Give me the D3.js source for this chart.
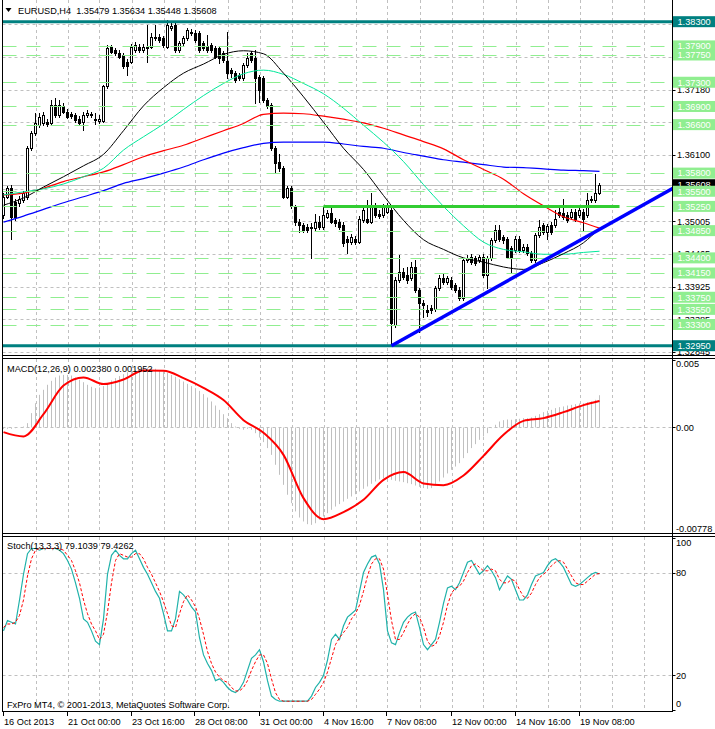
<!DOCTYPE html>
<html><head><meta charset="utf-8">
<script src="https://cdn.jsdelivr.net/npm/d3@7"></script>
<style>
html,body{margin:0;padding:0;background:#fff;}
svg text{font-family:"Liberation Sans",Arial,sans-serif;font-size:9.2px;white-space:pre;}
</style></head><body>
<svg id="c" width="715" height="729"></svg>
<script>
// ---------------- DATA ----------------
const symbolTitle = "EURUSD,H4  1.35479 1.35634 1.35448 1.35608";
const openP = [1.3511,1.3541,1.3555,1.3533,1.3530,1.3536,1.3541,1.3621,1.3646,1.3659,1.3662,1.3665,1.3662,1.3692,1.3676,1.3691,1.3681,1.3678,1.3676,1.3669,1.3665,1.3676,1.3678,1.3669,1.3666,1.3666,1.3723,1.3789,1.3783,1.3779,1.3775,1.3764,1.3764,1.3783,1.3789,1.3783,1.3786,1.3789,1.3803,1.3805,1.3803,1.3789,1.3819,1.3825,1.3783,1.3794,1.3803,1.3811,1.3811,1.3811,1.3794,1.3790,1.3792,1.3786,1.3786,1.3778,1.3765,1.3750,1.3745,1.3742,1.3737,1.3759,1.3778,1.3770,1.3739,1.3737,1.3701,1.3692,1.3621,1.3599,1.3588,1.3541,1.3555,1.3525,1.3500,1.3494,1.3491,1.3489,1.3489,1.3500,1.3491,1.3508,1.3514,1.3503,1.3500,1.3494,1.3472,1.3467,1.3472,1.3467,1.3503,1.3505,1.3500,1.3525,1.3512,1.3511,1.3516,1.3519,1.3329,1.3403,1.3417,1.3412,1.3406,1.3425,1.3387,1.3365,1.3354,1.3357,1.3355,1.3390,1.3406,1.3401,1.3403,1.3395,1.3387,1.3373,1.3437,1.3442,1.3439,1.3437,1.3442,1.3412,1.3439,1.3470,1.3486,1.3474,1.3471,1.3456,1.3453,1.3472,1.3453,1.3458,1.3448,1.3437,1.3478,1.3494,1.3483,1.3494,1.3494,1.3516,1.3514,1.3511,1.3508,1.3516,1.3511,1.3516,1.3511,1.3536,1.3536,1.35479];
const highP = [1.3547,1.3559,1.3560,1.3537,1.3542,1.3550,1.3625,1.3650,1.3679,1.3679,1.3681,1.3669,1.3701,1.3704,1.3701,1.3696,1.3686,1.3681,1.3679,1.3674,1.3681,1.3684,1.3681,1.3679,1.3676,1.3725,1.3792,1.3792,1.3787,1.3783,1.3778,1.3768,1.3793,1.3796,1.3793,1.3793,1.3825,1.3811,1.3825,1.3810,1.3806,1.3833,1.3828,1.3828,1.3798,1.3806,1.3820,1.3818,1.3816,1.3815,1.3798,1.3808,1.3795,1.3790,1.3790,1.3782,1.3813,1.3754,1.3749,1.3745,1.3762,1.3778,1.3782,1.3783,1.3742,1.3740,1.3704,1.3696,1.3625,1.3612,1.3592,1.3559,1.3559,1.3527,1.3504,1.3498,1.3496,1.3498,1.3512,1.3509,1.3524,1.3519,1.3522,1.3506,1.3504,1.3499,1.3476,1.3479,1.3476,1.3509,1.3525,1.3536,1.3547,1.3531,1.3519,1.3529,1.3531,1.3527,1.3408,1.3445,1.3423,1.3425,1.3433,1.3437,1.3390,1.3371,1.3362,1.3362,1.3394,1.3412,1.3413,1.3410,1.3408,1.3399,1.3392,1.3440,1.3445,1.3446,1.3443,1.3445,1.3446,1.3443,1.3473,1.3494,1.3494,1.3478,1.3474,1.3460,1.3476,1.3476,1.3463,1.3463,1.3451,1.3481,1.3503,1.3498,1.3496,1.3499,1.3519,1.3522,1.3538,1.3516,1.3521,1.3521,1.3524,1.3521,1.3547,1.3542,1.3579,1.35634];
const lowP = [1.3506,1.3539,1.3471,1.3503,1.3526,1.3532,1.3537,1.3618,1.3643,1.3656,1.3659,1.3658,1.3659,1.3673,1.3673,1.3679,1.3671,1.3671,1.3664,1.3659,1.3651,1.3673,1.3673,1.3661,1.3663,1.3664,1.3721,1.3778,1.3775,1.3770,1.3754,1.3742,1.3762,1.3780,1.3780,1.3780,1.3764,1.3787,1.3800,1.3796,1.3788,1.3787,1.3816,1.3780,1.3780,1.3792,1.3800,1.3808,1.3796,1.3780,1.3783,1.3780,1.3780,1.3770,1.3762,1.3763,1.3737,1.3739,1.3730,1.3734,1.3734,1.3755,1.3763,1.3696,1.3698,1.3697,1.3688,1.3618,1.3582,1.3583,1.3539,1.3539,1.3522,1.3494,1.3483,1.3483,1.3483,1.3440,1.3486,1.3488,1.3488,1.3506,1.3498,1.3493,1.3488,1.3460,1.3448,1.3463,1.3463,1.3465,1.3499,1.3498,1.3498,1.3508,1.3506,1.3508,1.3514,1.3295,1.3326,1.3400,1.3405,1.3399,1.3403,1.3384,1.3318,1.3343,1.3344,1.3349,1.3352,1.3387,1.3397,1.3397,1.3389,1.3384,1.3371,1.3371,1.3433,1.3430,1.3428,1.3433,1.3408,1.3390,1.3437,1.3466,1.3468,1.3465,1.3440,1.3417,1.3450,1.3450,1.3450,1.3445,1.3433,1.3433,1.3474,1.3479,1.3472,1.3479,1.3491,1.3508,1.3504,1.3499,1.3504,1.3501,1.3508,1.3486,1.3508,1.3532,1.3532,1.35448];
const closeP = [1.3541,1.3555,1.3508,1.3508,1.3538,1.3547,1.3621,1.3646,1.3662,1.3673,1.3676,1.3661,1.3692,1.3676,1.3692,1.3681,1.3673,1.3674,1.3668,1.3662,1.3676,1.3679,1.3676,1.3668,1.3669,1.3723,1.3786,1.3780,1.3778,1.3772,1.3756,1.3756,1.3789,1.3792,1.3783,1.3789,1.3789,1.3805,1.3805,1.3800,1.3792,1.3825,1.3823,1.3783,1.3794,1.3803,1.3816,1.3813,1.3800,1.3783,1.3786,1.3783,1.3783,1.3772,1.3770,1.3767,1.3745,1.3745,1.3734,1.3737,1.3759,1.3770,1.3767,1.3737,1.3717,1.3701,1.3690,1.3621,1.3596,1.3588,1.3541,1.3555,1.3525,1.3500,1.3494,1.3486,1.3486,1.3491,1.3500,1.3491,1.3511,1.3514,1.3500,1.3497,1.3491,1.3464,1.3467,1.3475,1.3467,1.3505,1.3519,1.3500,1.3525,1.3511,1.3509,1.3525,1.3526,1.3332,1.3403,1.3417,1.3409,1.3403,1.3425,1.3387,1.3365,1.3362,1.3351,1.3354,1.3390,1.3406,1.3401,1.3406,1.3392,1.3387,1.3373,1.3437,1.3439,1.3434,1.3431,1.3441,1.3412,1.3439,1.3470,1.3486,1.3471,1.3470,1.3442,1.3439,1.3472,1.3453,1.3458,1.3448,1.3437,1.3478,1.3491,1.3483,1.3493,1.3483,1.3505,1.3511,1.3508,1.3503,1.3516,1.3505,1.3519,1.3505,1.3536,1.3538,1.3547,1.35608];

// moving averages sampled at bars
const maBars  = [0,5,10,15,20,25,30,35,40,45,50,55,60,65,70,75,80,85,90,95,100,105,110,115,120,125,130,135,140,145,149];
const maBlack = [1.3527,1.3539,1.3557,1.3574,1.3592,1.3611,1.3650,1.3691,1.3721,1.3745,1.3760,1.3776,1.3782,1.3777,1.3745,1.3706,1.3664,1.3621,1.3586,1.3543,1.3502,1.3470,1.3454,1.3440,1.3433,1.3425,1.3421,1.3432,1.3447,1.3465,1.3489];
const maGreen = [1.3544,1.3549,1.3554,1.3562,1.3574,1.3588,1.3618,1.3640,1.3661,1.3685,1.3708,1.3728,1.3744,1.3750,1.3743,1.3728,1.3711,1.3687,1.3659,1.3631,1.3599,1.3561,1.3525,1.3493,1.3466,1.3454,1.3450,1.3446,1.3446,1.3449,1.3451];
const maRed   = [1.3544,1.3547,1.3555,1.3566,1.3574,1.3582,1.3594,1.3607,1.3617,1.3626,1.3638,1.3650,1.3662,1.3677,1.3679,1.3678,1.3674,1.3669,1.3663,1.3654,1.3643,1.3632,1.3620,1.3602,1.3586,1.3570,1.3546,1.3526,1.3508,1.3498,1.3489];
const maBlue  = [1.3499,1.3509,1.3520,1.3531,1.3541,1.3551,1.3563,1.3571,1.3580,1.3590,1.3602,1.3613,1.3622,1.3629,1.3631,1.3631,1.3631,1.3628,1.3624,1.3621,1.3614,1.3608,1.3602,1.3598,1.3594,1.3590,1.3589,1.3587,1.3585,1.3584,1.3583];

// MACD(12,26,9)
const macdMain = [-0.0001,-0.0001,-0.0001,-0.00005,0,0.00007,0.00032,0.00106,0.00179,0.00241,0.00278,0.00315,0.00344,0.00369,0.00383,0.00388,0.00388,0.00383,0.00369,0.00352,0.00334,0.00315,0.00300,0.00290,0.00295,0.00305,0.00327,0.00347,0.00364,0.00379,0.00393,0.00408,0.00418,0.00425,0.00430,0.00435,0.00438,0.00438,0.00433,0.00423,0.00413,0.00401,0.00388,0.00374,0.00356,0.00339,0.00322,0.00305,0.00290,0.00270,0.00246,0.00221,0.00192,0.00162,0.00130,0.00098,0.00069,0.00032,0.00007,-0.00010,-0.00017,-0.00010,-0.00017,-0.00042,-0.00074,-0.00108,-0.00152,-0.00202,-0.00275,-0.00349,-0.00423,-0.00496,-0.00558,-0.00619,-0.00664,-0.00693,-0.00713,-0.00718,-0.00706,-0.00681,-0.00656,-0.00632,-0.00607,-0.00583,-0.00565,-0.00546,-0.00526,-0.00509,-0.00492,-0.00472,-0.00452,-0.00435,-0.00415,-0.00398,-0.00383,-0.00374,-0.00379,-0.00386,-0.00393,-0.00398,-0.00403,-0.00411,-0.00418,-0.00428,-0.00438,-0.00447,-0.00452,-0.00447,-0.00428,-0.00398,-0.00369,-0.00339,-0.00312,-0.00288,-0.00263,-0.00226,-0.00189,-0.00152,-0.00123,-0.00091,-0.00066,-0.00042,-0.00005,0.00020,0.00044,0.00054,0.00059,0.00057,0.00061,0.00064,0.00069,0.00069,0.00074,0.00086,0.00098,0.00113,0.00123,0.00130,0.00143,0.00150,0.00155,0.00162,0.00167,0.00172,0.00177,0.00179,0.00187,0.00192,0.00204,0.002380];
const macdSigBars = [0,5,10,15,20,25,30,35,40,45,50,55,60,65,70,75,80,85,90,95,100,105,110,115,120,125,130,135,140,145,149];
const macdSignal = [-0.00034,-0.00066,0.00098,0.00309,0.00369,0.00320,0.00354,0.00420,0.00418,0.00364,0.00292,0.00202,0.00054,-0.00039,-0.00202,-0.00521,-0.00676,-0.00624,-0.00533,-0.00386,-0.00329,-0.00413,-0.00425,-0.00354,-0.00209,-0.00054,0.00049,0.00069,0.00113,0.00165,0.001952];

// Stochastic(13,3,3)
const stochMain = [46,52,51,50,64,79,91,94,94,93,94,94,94,94,93,91,87,82,74,65,53,51,46,40,38,53,79,90,93,90,88,88,91,93,88,83,79,74,69,65,56,46,46,53,69,67,64,60,57,42,32,27,23,17,18,16,13,11,10,12,16,23,30,32,35,28,17,8,6,5,5,5,5,5,5,5,5,8,13,16,20,29,41,44,41,49,54,56,58,69,80,85,89,90,85,70,46,39,38,45,51,54,56,57,48,38,35,38,41,51,62,71,72,70,74,80,86,87,83,79,81,84,81,77,70,74,78,76,70,64,64,67,73,78,79,80,84,87,88,86,83,78,73,72,73,75,77,79,80,79.1039];
const stochSignal = [48,50,50,51,55,64,78,88,93,94,94,94,94,94,94,93,90,87,81,74,64,56,50,46,41,44,57,74,87,91,90,89,89,91,91,88,83,79,74,69,63,56,49,48,56,63,67,64,60,53,44,34,27,22,19,17,16,13,11,11,13,17,23,28,32,32,27,18,10,6,5,5,5,5,5,5,5,6,9,12,16,22,30,38,42,45,48,53,56,61,69,78,85,88,88,82,67,52,41,41,45,50,54,56,54,48,40,37,38,43,51,61,68,71,72,75,80,84,85,83,81,81,82,81,76,74,74,76,75,70,66,65,68,73,77,79,81,84,86,87,86,82,78,74,73,73,75,77,79,79.4262];

// horizontal levels / objects
const greenLevels = [1.3790,1.3775,1.3730,1.3690,1.3660,1.3580,1.3550,1.3525,1.3485,1.3440,1.3415,1.3375,1.3355,1.3330];
const tealLevels = [1.3830,1.3295];
const bidPrice = 1.35608;
const priceGrid = [1.38260,1.37720,1.37180,1.36640,1.36100,1.35545,1.35005,1.34465,1.33925,1.33385,1.32845];
const priceLabels = [1.37180,1.36100,1.35005,1.34465,1.33925,1.33385,1.32845];
const greenTrend = {bars:[80,154], price:1.3525};
const blueTrend = {bars:[97,149], prices:[1.3295,1.3487]};
const dateBars = [0,16,32,48,64,80,96,112,128,144];
const dateLabels = ["16 Oct 2013","21 Oct 00:00","23 Oct 16:00","28 Oct 08:00","31 Oct 00:00","4 Nov 16:00","7 Nov 08:00","12 Nov 00:00","14 Nov 16:00","19 Nov 08:00"];
const macdTicks = [{v:0.005,t:"0.005",dy:7},{v:0,t:"0.00",dy:3.3},{v:-0.00778,t:"-0.00778",dy:-1.5}];
const stochTicks = [{v:100,t:"100",dy:8},{v:80,t:"80",dy:3.3},{v:20,t:"20",dy:3.3},{v:0,t:"0",dy:-2.5}];
const stochLevels = [80,20];

// ---------------- DRAW ----------------
const svg = d3.select("#c");
const L = 2.5, R = 672.5;
const xS = d3.scaleLinear().domain([0,149]).range([3.5,599.5]);
const yP = d3.scaleLinear().domain([1.38658,1.32813]).range([0,354]);
const yM = d3.scaleLinear().domain([0.00505,-0.00778]).range([359,533]);
const yS = d3.scaleLinear().domain([100,0]).range([538.2,709.8]);
const crisp = v => Math.round(v) + 0.5;
const GRID = "#c0c0c0";

const defs = svg.append("defs");
function clip(id,x,y,w,h){defs.append("clipPath").attr("id",id).append("rect").attr("x",x).attr("y",y).attr("width",w).attr("height",h);}
clip("cMain",3,0,669.5,355.5);
clip("cMacd",3,359,669.5,174.5);
clip("cSto",3,537,669.5,174.5);

svg.append("rect").attr("width",715).attr("height",729).attr("fill","#fff");

const vgrid = svg.append("g");
d3.range(8,168,8).forEach(b=>{
  const x = crisp(xS(b));
  [[0,355],[359,533],[537,711]].forEach(([a,c])=>{
    vgrid.append("line").attr("x1",x).attr("x2",x).attr("y1",a).attr("y2",c)
      .attr("stroke",GRID).attr("stroke-dasharray","3,3");
  });
});

const gMain = svg.append("g").attr("clip-path","url(#cMain)");
priceGrid.forEach(v=>{
  const y = crisp(yP(v));
  gMain.append("line").attr("x1",L).attr("x2",R).attr("y1",y).attr("y2",y)
    .attr("stroke",GRID).attr("stroke-dasharray","3,3");
});
gMain.append("line").attr("x1",L).attr("x2",R).attr("y1",crisp(yP(bidPrice))).attr("y2",crisp(yP(bidPrice)))
  .attr("stroke","#c0c0c0");

const gCand = gMain.append("g");
closeP.forEach((c,i)=>{
  const o = openP[i], h = highP[i], l = lowP[i];
  const cx = xS(i);
  gCand.append("line").attr("x1",cx).attr("x2",cx)
    .attr("y1",Math.round(yP(h))).attr("y2",Math.round(yP(l))+1).attr("stroke","#000");
  const t = Math.round(Math.min(yP(o),yP(c))), b = Math.round(Math.max(yP(o),yP(c)));
  gCand.append("rect").attr("x",cx-1).attr("y",t+0.5).attr("width",2).attr("height",Math.max(b-t,0))
    .attr("fill", c>=o ? "#fff" : "#000").attr("stroke","#000");
});

const maLine = d3.line().x(d=>xS(d[0])).y(d=>yP(d[1])).curve(d3.curveMonotoneX);
[[maBlue,"#0000ff",1.2],[maRed,"#ff0000",1.2],[maGreen,"#00e89a",1],[maBlack,"#000000",1]].forEach(([arr,col,w])=>{
  gMain.append("path").attr("d",maLine(maBars.map((b,k)=>[b,arr[k]])))
    .attr("fill","none").attr("stroke",col).attr("stroke-width",w);
});

greenLevels.forEach(v=>{
  const y = crisp(yP(v));
  gMain.append("line").attr("x1",L).attr("x2",R).attr("y1",y).attr("y2",y)
    .attr("stroke","#90ee90").attr("stroke-dasharray","14,10");
});
tealLevels.forEach(v=>{
  const y = yP(v);
  gMain.append("line").attr("x1",L).attr("x2",R).attr("y1",y).attr("y2",y)
    .attr("stroke","#008080").attr("stroke-width",3);
});
gMain.append("line").attr("x1",xS(greenTrend.bars[0])).attr("x2",xS(greenTrend.bars[1]))
  .attr("y1",yP(greenTrend.price)).attr("y2",yP(greenTrend.price))
  .attr("stroke","#32cd32").attr("stroke-width",3);
{
  const [b0,b1] = blueTrend.bars, [p0,p1] = blueTrend.prices;
  const bEnd = xS.invert(R+4);
  const pEnd = p0 + (p1-p0)/(b1-b0)*(bEnd-b0);
  gMain.append("line").attr("x1",xS(b0)).attr("y1",yP(p0)).attr("x2",xS(bEnd)).attr("y2",yP(pEnd))
    .attr("stroke","#0000ff").attr("stroke-width",3.5);
}

svg.append("path").attr("d","M5.5,8 L11.5,8 L8.5,12 Z").attr("fill","#000");
svg.append("text").attr("x",18).attr("y",13.5).attr("fill","#000").text(symbolTitle);

const gMacd = svg.append("g").attr("clip-path","url(#cMacd)");
gMacd.append("line").attr("x1",L).attr("x2",R).attr("y1",crisp(yM(0))).attr("y2",crisp(yM(0)))
  .attr("stroke",GRID).attr("stroke-dasharray","3,3");
macdMain.forEach((v,i)=>{
  gMacd.append("line").attr("x1",xS(i)).attr("x2",xS(i)).attr("y1",crisp(yM(0))).attr("y2",yM(v))
    .attr("stroke","#c0c0c0").attr("stroke-width",1);
});
gMacd.append("path").attr("d", d3.line().x(d=>xS(d[0])).y(d=>yM(d[1])).curve(d3.curveMonotoneX)(macdSigBars.map((b,k)=>[b,macdSignal[k]])))
  .attr("fill","none").attr("stroke","#ff0000").attr("stroke-width",2);
svg.append("text").attr("x",7).attr("y",371.5).attr("fill","#000").text("MACD(12,26,9) 0.002380 0.001952");

const gSto = svg.append("g").attr("clip-path","url(#cSto)");
stochLevels.forEach(v=>{
  gSto.append("line").attr("x1",L).attr("x2",R).attr("y1",crisp(yS(v))).attr("y2",crisp(yS(v)))
    .attr("stroke",GRID).attr("stroke-dasharray","3,3");
});
const sLine = d3.line().x((d,i)=>xS(i)).y(d=>yS(d));
gSto.append("path").attr("d",sLine(stochMain)).attr("fill","none").attr("stroke","#20b2aa").attr("stroke-width",1.2);
gSto.append("path").attr("d",sLine(stochSignal)).attr("fill","none").attr("stroke","#ff0000").attr("stroke-width",1).attr("stroke-dasharray","3,2");
svg.append("text").attr("x",7).attr("y",549).attr("fill","#000").text("Stoch(13,3,3) 79.1039 79.4262");
svg.append("text").attr("x",7).attr("y",707.5).attr("fill","#000").text("FxPro MT4, \u00a9 2001-2013, MetaQuotes Software Corp.");

const fr = svg.append("g").attr("stroke","#000").attr("stroke-width",1);
fr.append("line").attr("x1",L).attr("x2",L).attr("y1",0).attr("y2",712);
fr.append("line").attr("x1",R).attr("x2",R).attr("y1",0).attr("y2",712);
[355.5,358.5,533.5,536.5].forEach(y=>fr.append("line").attr("x1",L).attr("x2",715).attr("y1",y).attr("y2",y));
fr.append("line").attr("x1",L).attr("x2",R).attr("y1",711.5).attr("y2",711.5);

const ax = svg.append("g");
priceGrid.forEach(v=>{
  const y = yP(v);
  ax.append("line").attr("x1",R).attr("x2",R+3).attr("y1",crisp(y)).attr("y2",crisp(y)).attr("stroke","#000");
});
priceLabels.forEach(v=>{
  ax.append("text").attr("x",677).attr("y",yP(v)+3.3).attr("fill","#000").text(v.toFixed(5));
});
function priceBox(v,fill){
  const y = yP(v);
  ax.append("rect").attr("x",673).attr("y",y-5.5).attr("width",42).attr("height",11).attr("fill",fill);
  ax.append("text").attr("x",677.5).attr("y",y+3.4).attr("fill","#fff").text(v.toFixed(5));
}
priceBox(bidPrice,"#000");
greenLevels.forEach(v=>priceBox(v,"#90ee90"));
tealLevels.forEach(v=>priceBox(v,"#008080"));

macdTicks.forEach(d=>{
  const y = yM(d.v);
  ax.append("line").attr("x1",R).attr("x2",R+3).attr("y1",crisp(y)).attr("y2",crisp(y)).attr("stroke","#000");
  ax.append("text").attr("x",676).attr("y",y+d.dy).attr("fill","#000").text(d.t);
});
stochTicks.forEach(d=>{
  const y = yS(d.v);
  ax.append("line").attr("x1",R).attr("x2",R+3).attr("y1",crisp(y)).attr("y2",crisp(y)).attr("stroke","#000");
  ax.append("text").attr("x",676).attr("y",y+d.dy).attr("fill","#000").text(d.t);
});

dateBars.forEach((b,k)=>{
  const x = crisp(xS(b)) - 1;
  ax.append("line").attr("x1",x).attr("x2",x).attr("y1",711).attr("y2",716).attr("stroke","#000");
  ax.append("text").attr("x",x+0.5).attr("y",724.5).attr("fill","#000").text(dateLabels[k]);
});
</script>
</body></html>
